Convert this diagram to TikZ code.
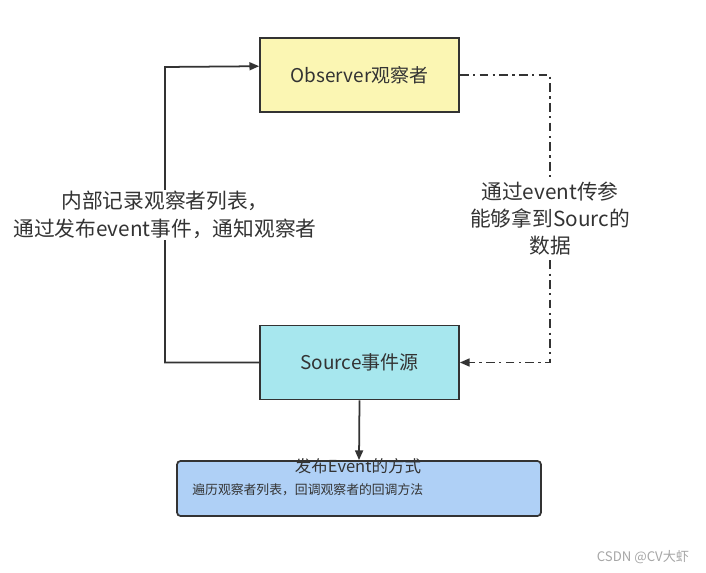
\documentclass[tikz,border=0pt]{standalone}
\usepackage{fontspec}
\setmainfont{Noto Sans CJK SC}
\usetikzlibrary{arrows.meta}

\definecolor{obsyellow}{HTML}{FBF6B3}
\definecolor{srccyan}{HTML}{A7E7EE}
\definecolor{pubblue}{HTML}{AFD0F6}
\definecolor{ink}{HTML}{333333}

\begin{document}
\begin{tikzpicture}[
		x=0.02cm, y=-0.02cm,
		every node/.style={text=ink},
		box/.style={draw=ink, line width=1pt, minimum width=3.98cm, minimum height=1.48cm, font=\fontsize{10.8}{12}\selectfont},
		wire/.style={draw=ink, line width=1pt, -{Triangle[length=5.5pt, width=4.5pt]}},
		wirelabel/.style={fill=white, align=center, inner sep=1pt, font=\fontsize{11.8}{15.5}\selectfont}
	]
  \useasboundingbox (0,0) rectangle (706,573);
  \node (observer) [box, fill=obsyellow] at (359.5,75) {Observer观察者};
  \node (source) [box, fill=srccyan] at (359.5,362.5) {Source事件源};
  \node (publish) [draw=ink, line width=1pt, rounded corners=2pt, fill=pubblue, minimum width=7.28cm, minimum height=1.1cm] at (359,488.5) {};
  \node (publish_title) [font=\fontsize{9.4}{10}\selectfont] at (358,466) {发布Event的方式};
  \node (publish_text) [anchor=west, inner sep=0pt, font=\fontsize{7.3}{9}\selectfont] at (192,490) {遍历观察者列表，回调观察者的回调方法};
  \node (mark) [text=gray!70, font=\fontsize{7.5}{9}\selectfont] at (643,557) {CSDN @CV大虾};
  \draw [wire] (source.west) -- (165,362.5) -- node[wirelabel] {内部记录观察者列表，\\通过发布event事件，通知观察者} (165,67) -- (observer.175);
  \draw [wire, dash pattern=on 5pt off 2.5pt on 1.2pt off 2.5pt] (observer.east) -- (550,75) -- node[wirelabel] {通过event传参\\能够拿到Sourc的\\数据} (550,362.5) -- (source.east);
  \draw [wire] (source.south) -- (publish.north);
\end{tikzpicture}
\end{document}
